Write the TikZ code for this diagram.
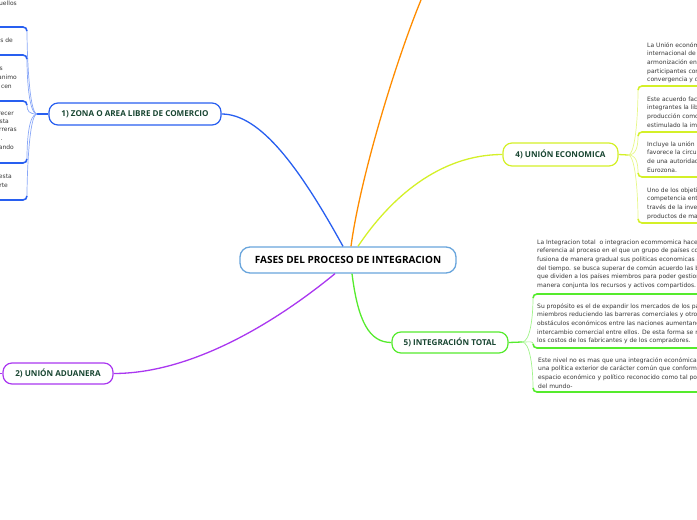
\documentclass[tikz,border=0pt]{standalone}
\usepackage{fontspec}
\setmainfont{Open Sans}
\newfontfamily\bodyfont{DejaVu Sans}
\usetikzlibrary{calc}
\definecolor{cblue}{RGB}{40,95,240}
\definecolor{corange}{RGB}{255,140,0}
\definecolor{cyel}{RGB}{212,240,40}
\definecolor{cgreen}{RGB}{85,235,45}
\definecolor{cpurp}{RGB}{170,55,240}
\definecolor{cedge}{RGB}{105,165,220}
\definecolor{ctext}{RGB}{25,70,50}
\definecolor{cbody}{RGB}{55,55,55}
\tikzset{
 mainbox/.style={draw=cedge, line width=1.3pt, fill=white, rounded corners=10pt, minimum width=216pt, minimum height=26pt, inner sep=0pt, font=\fontsize{10}{12}\selectfont\bfseries, text=black},
 subbox/.style={draw=#1, line width=1.2pt, fill=white, rounded corners=9pt, inner sep=0pt, font=\fontsize{8.1}{10}\selectfont\bfseries, text=ctext},
 branch/.style={line width=1.3pt},
 kidthin/.style={line width=0.7pt},
 kidthick/.style={line width=1.6pt},
 bodytext/.style={font=\bodyfont\fontsize{6.0}{8.6}\selectfont, text=cbody, align=left, inner sep=0pt, anchor=north west},
 fragtext/.style={font=\bodyfont\fontsize{6.0}{8.6}\selectfont, text=cbody, inner sep=0pt, anchor=base east},
}
\newcommand\fs{\rule{0pt}{6pt}}
\newcommand\kidline[8]{%
 \draw[kidthin,#7!55] (#1) .. controls +({(#5)*8},0) and +(0,{-(#4)*(#8)}) .. (#2,{#3-(#4)*4});
 \draw[kidthick,#7,rounded corners=4pt] (#2,{#3-(#4)*4}) -- (#2,#3) -- (#6,#3);
}
\begin{document}
\begin{tikzpicture}[x=1pt,y=-1pt]
\useasboundingbox (0,0) rectangle (697,520);
% nodes
\node[mainbox] (c) at (348,260) {FASES DEL PROCESO DE INTEGRACION};
\node[subbox=cblue, minimum width=172pt, minimum height=22pt] (n1) at (135,114) {1) ZONA O AREA LIBRE DE COMERCIO};
\node[subbox=cpurp, minimum width=110pt, minimum height=21pt] (n2) at (58,373.5) {2) UNIÓN ADUANERA};
\node[subbox=cyel, minimum width=115pt, minimum height=23pt] (n4) at (560.5,154.5) {4) UNIÓN ECONOMICA};
\node[subbox=cgreen, minimum width=116pt, minimum height=21pt] (n5) at (450,342.5) {5) INTEGRACIÓN TOTAL};
% branch start points
\coordinate (sb) at ($(c.north)+(-5,0)$);
\coordinate (so) at ($(c.north)+(3,0)$);
\coordinate (sy) at ($(c.north)+(10,0)$);
\coordinate (sg) at ($(c.south)+(4,0)$);
\coordinate (sp) at ($(c.south)+(-13,0)$);
\coordinate (n3) at (426,-12);
% main branches
\draw[branch,cblue] (sb) .. controls +(-43,-78) and +(39,0) .. (n1.east);
\draw[branch,corange] (so) .. controls +(9,-68) and +(-29,67) .. (n3);
\draw[branch,cyel] (sy) .. controls +(32,-48) and +(-63,0) .. (n4.west);
\draw[branch,cgreen] (sg) .. controls +(6,48) and +(-22,0) .. (n5.west);
\draw[branch,cpurp] (sp) .. controls +(-45,37) and +(87,0) .. (n2.east);
\draw[branch,cpurp] (n2.west) -- ++(-8,0);
% junctions
\coordinate (j1) at (37,114);
\coordinate (j4) at (628,155);
\coordinate (j5) at (522,342);
\draw[branch,cblue] (n1.west) -- (j1);
\draw[branch,cyel] (n4.east) -- (j4);
\draw[branch,cgreen] (n5.east) -- (j5);
% children of 1
\kidline{j1}{27}{27}{-1}{-1}{-5}{cblue}{20}
\kidline{j1}{27}{55}{-1}{-1}{-5}{cblue}{20}
\kidline{j1}{27}{101}{-1}{-1}{-5}{cblue}{6}
\kidline{j1}{27}{163}{1}{-1}{-5}{cblue}{20}
\kidline{j1}{27}{200}{1}{-1}{-5}{cblue}{20}
% children of 4
\kidline{j4}{638}{86}{-1}{1}{705}{cyel}{20}
\kidline{j4}{638}{132}{-1}{1}{705}{cyel}{11}
\kidline{j4}{638}{177}{1}{1}{705}{cyel}{11}
\kidline{j4}{638}{223}{1}{1}{705}{cyel}{20}
% children of 5
\kidline{j5}{533}{294}{-1}{1}{705}{cgreen}{20}
\kidline{j5}{533}{348}{1}{1}{705}{cgreen}{3}
\kidline{j5}{533}{392}{1}{1}{705}{cgreen}{20}
% left fragments
\node[fragtext] (t1) at (17,5) {uellos};
\node[fragtext] (t2) at (13,42) {es de};
\node[fragtext] (t3) at (3,70) {s};
\node[fragtext] (t4) at (17,79) {animo};
\node[fragtext] (t5) at (12,88) {cen};
\node[fragtext] (t6) at (14,115) {recer};
\node[fragtext] (t7) at (9,123) {sta};
\node[fragtext] (t8) at (17,131) {rreras};
\node[fragtext] (t9) at (3,140) {.};
\node[fragtext] (t10) at (14,149) {ando};
\node[fragtext] (t11) at (12,178) {esta};
\node[fragtext] (t12) at (8,187) {rte};
% texts of 4
\node[bodytext] (u1) at (647,41) {\fs La Unión económi\\internacional de m\\armonización entr\\participantes con\\convergencia y de};
\node[bodytext] (u2) at (647,95) {\fs Este acuerdo facil\\integrantes la libr\\producción como\\estimulado la imp};
\node[bodytext] (u3) at (647,140) {\fs Incluye la unión m\\favorece la circula\\de una autoridad\\Eurozona.};
\node[bodytext] (u4) at (647,186) {\fs Uno de los objetiv\\competencia entre\\través de la invers\\productos de may};
% texts of 5
\node[bodytext] (v1) at (537,238) {\fs La Integracion total\ \ o integracion ecommomica hace\\referencia al proceso en el que un grupo de países coordi\\fusiona de manera gradual sus politicas economicas a lo\\del tiempo. se busca superar de común acuerdo las barre\\que dividen a los países miembros para poder gestionar d\\manera conjunta los recursos y activos compartidos.};
\node[bodytext] (v2) at (537,302) {\fs Su propósito es el de expandir los mercados de los países\\miembros reduciendo las barreras comerciales y otros\\obstáculos económicos entre las naciones aumentando a\\intercambio comercial entre ellos. De esta forma se reduc\\los costos de los fabricantes y de los compradores.};
\node[bodytext] (v3) at (538,356) {\fs Este nivel no es mas que una integración económica total\\una política exterior de carácter común que conforma un\\espacio económico y político reconocido como tal por el r\\del mundo-};
\end{tikzpicture}
\end{document}
